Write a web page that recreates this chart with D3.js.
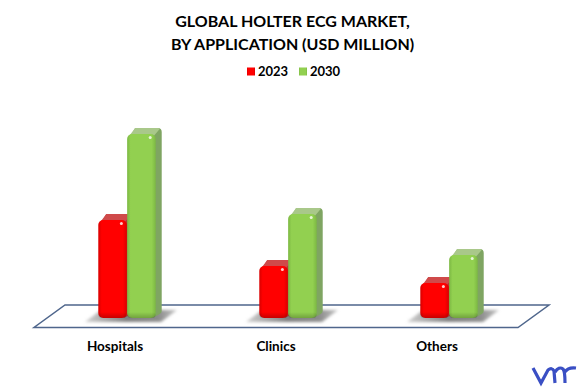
<!DOCTYPE html>
<html>
<head>
<meta charset="utf-8">
<script src="https://cdn.jsdelivr.net/npm/d3@7"></script>
<style>
  html, body { margin: 0; padding: 0; background: #fff; }
  svg { display: block; }
  text { font-family: Lato, "Open Sans", sans-serif; font-weight: 700; fill: #000; }
</style>
</head>
<body>
<svg id="chart" width="579" height="388"></svg>
<script>
const titleLines = ['GLOBAL HOLTER ECG MARKET,', 'BY APPLICATION (USD MILLION)']
const categories = ['Hospitals', 'Clinics', 'Others']
const years = ['2023', '2030']
const values2023 = [98, 52, 35]
const values2030 = [184, 104, 63]

const svg = d3.select('#chart')
const defs = svg.append('defs')

const colors = {
  '2023': { front: '#ff0000', edge: '#d80000', top: '#cf4a4a', side: '#b83434' },
  '2030': { front: '#92d050', edge: '#7cb843', top: '#a9c88a', side: '#7fa562' }
}

years.forEach(yr => {
  const c = colors[yr]
  const grad = defs.append('linearGradient').attr('id', 'front' + yr)
  grad.append('stop').attr('offset', '0%').attr('stop-color', c.edge)
  grad.append('stop').attr('offset', '12%').attr('stop-color', c.front)
  grad.append('stop').attr('offset', '86%').attr('stop-color', c.front)
  grad.append('stop').attr('offset', '100%').attr('stop-color', c.edge)
})
const bevel = defs.append('linearGradient').attr('id', 'bevel').attr('x1', 0).attr('x2', 0).attr('y1', 1).attr('y2', 0)
bevel.append('stop').attr('offset', '0%').attr('stop-color', '#000').attr('stop-opacity', 0.22)
bevel.append('stop').attr('offset', '100%').attr('stop-color', '#000').attr('stop-opacity', 0)

const blur = (id, dev) => defs.append('filter').attr('id', id)
  .attr('x', '-30%').attr('y', '-60%').attr('width', '160%').attr('height', '220%')
  .append('feGaussianBlur').attr('stdDeviation', dev)
blur('blur', 1.5)
blur('soft', 0.6)

const shadowGrad = defs.append('linearGradient').attr('id', 'shadow')
shadowGrad.append('stop').attr('offset', '0%').attr('stop-color', '#d0d0d0')
shadowGrad.append('stop').attr('offset', '45%').attr('stop-color', '#808080')
shadowGrad.append('stop').attr('offset', '80%').attr('stop-color', '#8c8c8c')
shadowGrad.append('stop').attr('offset', '100%').attr('stop-color', '#c8c8c8')

// scales, no visible value axis in the original
const baseY = 318
const x = d3.scaleBand().domain(categories).range([34.5, 517.5])
const xYear = d3.scaleBand().domain(years).range([0, 58]).padding(0.01)
const y = d3.scaleLinear().domain([0, 200]).range([baseY, baseY - 200])

const depth = { dx: 6, dy: 6 }

// floor
const floor = d3.path()
floor.moveTo(34, 327.5)
floor.lineTo(518, 327.5)
floor.lineTo(549, 305)
floor.lineTo(65, 305)
floor.closePath()
svg.append('path').attr('d', floor.toString()).attr('fill', '#fff').attr('stroke', '#4f668c').attr('stroke-width', 1.5)

const rows = categories.map((cat, i) => ({ cat, vals: [values2023[i], values2030[i]] }))
const groups = svg.selectAll('.cat').data(rows).join('g')
  .attr('class', 'cat')
  .attr('transform', d => `translate(${x(d.cat) + x.bandwidth() / 2 - 17},0)`)

// shadow under each pair
groups.append('path')
  .attr('d', () => {
    const p = d3.path()
    const l = -13, r = 79
    p.moveTo(l, baseY + 4)
    p.lineTo(r - 16, baseY + 4)
    p.lineTo(r, baseY - 8)
    p.lineTo(l + 16, baseY - 8)
    p.closePath()
    return p.toString()
  })
  .attr('fill', 'url(#shadow)')
  .attr('filter', 'url(#blur)')

const bars = groups.selectAll('.bar')
  .data(d => years.map((yr, j) => ({ yr, v: d.vals[j] })))
  .join('g')
  .attr('class', 'bar')

// side and top faces go first so the front covers them
bars.append('path')
  .attr('d', d => {
    const bx = xYear(d.yr), w = xYear.bandwidth(), t = y(d.v)
    const right = bx + w + depth.dx, back = t - depth.dy
    const p = d3.path()
    p.moveTo(bx + 4, t + 1)
    p.lineTo(bx + 8, back)
    p.lineTo(right - 4, back)
    p.quadraticCurveTo(right, back, right, back + 4)
    p.lineTo(right, baseY - depth.dy - 1)
    p.quadraticCurveTo(right, baseY - depth.dy + 1, right - 2, baseY - depth.dy + 2)
    p.lineTo(bx + w - 3, baseY)
    p.closePath()
    return p.toString()
  })
  .attr('fill', d => colors[d.yr].side)

bars.append('path')
  .attr('d', d => {
    const bx = xYear(d.yr), w = xYear.bandwidth(), t = y(d.v)
    const right = bx + w + depth.dx, back = t - depth.dy
    const p = d3.path()
    p.moveTo(bx + 2, t + 2)
    p.lineTo(bx + 8, back)
    p.lineTo(right - 4, back)
    p.quadraticCurveTo(right - 1, back, right - 2, back + 1)
    p.lineTo(bx + w - 2, t + 2)
    p.closePath()
    return p.toString()
  })
  .attr('fill', d => colors[d.yr].top)

bars.append('rect')
  .attr('x', d => xYear(d.yr))
  .attr('y', d => y(d.v))
  .attr('width', xYear.bandwidth())
  .attr('height', d => baseY - y(d.v))
  .attr('rx', 5)
  .attr('fill', d => `url(#front${d.yr})`)

// darker lip along the foot of the front face
bars.append('rect')
  .attr('x', d => xYear(d.yr))
  .attr('y', baseY - 6)
  .attr('width', xYear.bandwidth())
  .attr('height', 6)
  .attr('rx', 4)
  .attr('fill', 'url(#bevel)')

// little highlight in the top right corner of each bar
bars.append('circle')
  .attr('cx', d => xYear(d.yr) + xYear.bandwidth() - 5.5)
  .attr('cy', d => y(d.v) + 3.5)
  .attr('r', 1.5)
  .attr('fill', '#fff')
  .attr('opacity', 0.8)
  .attr('filter', 'url(#soft)')

// category labels
svg.selectAll('.label').data(categories).join('text')
  .attr('class', 'label')
  .attr('x', d => x(d) + x.bandwidth() / 2)
  .attr('y', 351)
  .attr('text-anchor', 'middle')
  .attr('font-size', 13.5)
  .text(d => d)

// title
svg.selectAll('.title').data(titleLines).join('text')
  .attr('class', 'title')
  .attr('x', 292.5)
  .attr('y', (d, i) => 27 + i * 23)
  .attr('text-anchor', 'middle')
  .attr('font-size', 16)
  .text(d => d)

// legend
const legendX = d3.scaleOrdinal().domain(years).range([247, 299])
const legend = svg.selectAll('.legend').data(years).join('g')
  .attr('class', 'legend')
  .attr('transform', d => `translate(${legendX(d)},0)`)
legend.append('rect').attr('x', 0).attr('y', 67.5).attr('width', 8).attr('height', 8)
  .attr('fill', d => `url(#front${d})`)
legend.append('text').attr('x', 11).attr('y', 76).attr('font-size', 13).text(d => d)

// logo
svg.append('path')
  .attr('d', 'M533 368 L541 383 L548 370 Q552 367 554 371 L555 383 M555 372 Q559 366 563 369 Q565 371 565 383 M565 372 Q568 367 576 368')
  .attr('fill', 'none')
  .attr('stroke', '#3a4fc4')
  .attr('stroke-width', 3.2)
</script>
</body>
</html>
